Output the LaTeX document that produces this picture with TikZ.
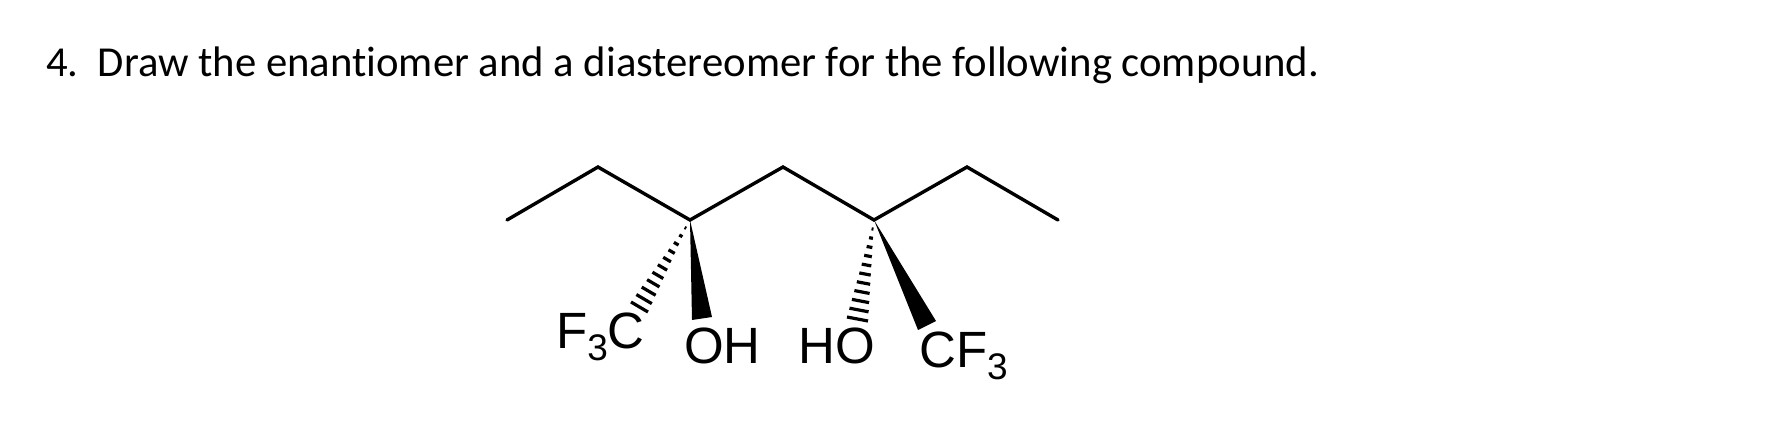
\documentclass[tikz,border=0pt]{standalone}
\usepackage{fontspec}
\setmainfont{Liberation Sans}
\newfontfamily\titlefont[Ligatures=NoCommon]{Carlito}
\newcommand{\subthree}{\raisebox{-12pt}{\fontsize{37}{37}\selectfont 3}}
\usetikzlibrary{calc}

\begin{document}
\begin{tikzpicture}[
      x = 1pt,y = -1pt,
      bond/.style = {line width = 3.4pt,line join = miter,line cap = round},
      wedge/.style = {fill = black},
      hashbar/.style = {line width = 3.2pt},
      atom/.style = {inner sep = 0,anchor = base west,font = \fontsize{51}{51}\selectfont},
      title/.style = {inner sep = 0,anchor = base west,font = \titlefont\fontsize{42.7}{46}\selectfont}
    ]
      \useasboundingbox (0,0) rectangle (1776,445);
      \node (title)[title] at (46,76) {4.\ \ Draw the enantiomer and a diastereomer for the following compound.};

      % carbon chain
      \coordinate (c1) at (507,220);
      \coordinate (c2) at (598,167);
      \coordinate (c3) at (690,220);
      \coordinate (c4) at (783,167);
      \coordinate (c5) at (874,220);
      \coordinate (c6) at (967,167);
      \coordinate (c7) at (1058,220);
      \draw [bond] (c1) -- (c2) -- (c3) -- (c4) -- (c5) -- (c6) -- (c7);

      % substituents
      \node (cfleft)[atom] at (556,348) {F\subthree C};
      \node (ohleft)[atom] at (684,363) {OH};
      \node (horight)[atom] at (798,363) {HO};
      \node (cfright)[atom] at (919,367) {CF\subthree};

      % wedges
      \fill [wedge] (c3) -- (692,320) -- (712,317) -- cycle;
      \fill [wedge] (c5) -- (918,330) -- (936,321) -- cycle;

      % hashed bonds
      \coordinate (hl1) at (631,302);
      \coordinate (hl2) at (648,312);
      \coordinate (hr1) at (847,317);
      \coordinate (hr2) at (868,321);
      \foreach \n in {1,...,11}{
        \pgfmathsetmacro{\t}{\n/11}
        \draw [hashbar] ($(c3)!\t!(hl1)$) -- ($(c3)!\t!(hl2)$);
        \draw [hashbar] ($(c5)!\t!(hr1)$) -- ($(c5)!\t!(hr2)$);
      }
    \end{tikzpicture}
\end{document}
